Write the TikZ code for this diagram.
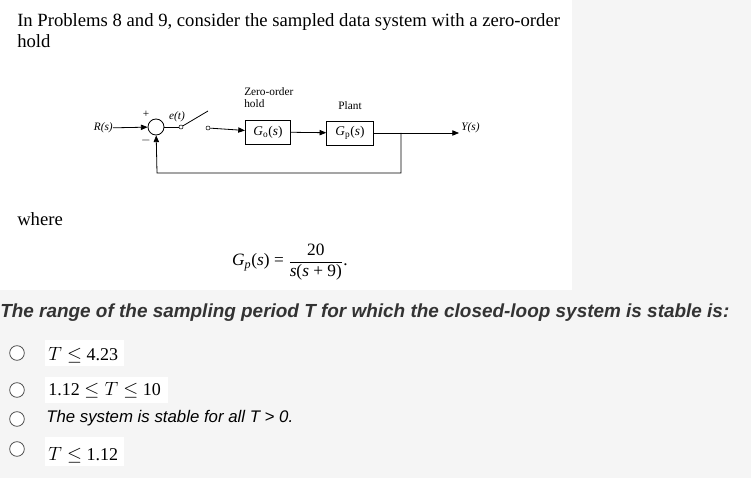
\documentclass[tikz,border=0pt]{standalone}
\usepackage{amsmath}
\usepackage{fontspec}
\setmainfont{Liberation Serif}
\setsansfont{Liberation Sans}
\usetikzlibrary{arrows.meta}
\begin{document}
\begin{tikzpicture}[x=0.75pt,y=-0.75pt,
  blk/.style={draw,line width=0.6pt,minimum width=34pt,minimum height=18pt,inner sep=0pt,font=\fontsize{10}{11}\selectfont},
  sig/.style={line width=0.6pt},
  arr/.style={sig,-{Triangle[length=5pt,width=4pt]}},
  lbl/.style={font=\fontsize{8.5}{9}\selectfont,inner sep=0pt},
  radio/.style={draw=black!70,fill=white,circle,minimum size=11pt,inner sep=0pt,line width=0.6pt},
  opt/.style={anchor=west,inner sep=0pt,font=\fontsize{13.5}{16}\selectfont}]
\useasboundingbox (0,0) rectangle (751,478);
\fill[black!4] (0,0) rectangle (751,478);
\fill[white] (0,0) rectangle (572,290);
\node[anchor=base west,inner sep=0pt,font=\fontsize{14}{16}\selectfont] (t1) at (17,27) {In Problems 8 and 9, consider the sampled data system with a zero-order};
\node[anchor=base west,inner sep=0pt,font=\fontsize{14}{16}\selectfont] (t2) at (17,48) {hold};
% diagram
\node[lbl,anchor=east] (R) at (113,128) {\itshape R(s)};
\node[draw,circle,minimum size=12pt,inner sep=0pt,line width=0.6pt] (sum) at (156,127) {};
\node[lbl] (plus) at (146,114) {+};
\node[lbl,font=\bfseries\fontsize{9}{9}\selectfont] (minus) at (146,141) {$-$};
\node[lbl] (et) at (177,117) {\itshape e(t)};
\node[draw,circle,minimum size=3pt,inner sep=0pt] (sw1) at (181,127) {};
\coordinate (swtip) at (208,111);
\node[draw,circle,minimum size=3pt,inner sep=0pt] (sw2) at (208,128) {};
\node[blk,minimum width=34pt] (G0) at (268,132) {\textit{G}\textsubscript{o}(\textit{s})};
\node[blk,minimum width=35pt] (Gp) at (350,133) {\textit{G}\textsubscript{p}(\textit{s})};
\node[lbl,align=left,anchor=south west] (zoh) at (244,108) {Zero-order\\hold};
\node[lbl,anchor=south] (plant) at (350,110) {Plant};
\node[lbl,anchor=west] (Y) at (461,128) {\itshape Y(s)};
\coordinate (br) at (401,133);
\coordinate (yend) at (459,133);
\coordinate (fb1) at (401,173);
\coordinate (fb2) at (157,173);
\draw[arr] (R) -- (sum);
\draw[sig] (sum) -- (sw1);
\draw[sig] (sw1) -- (swtip);
\draw[arr] (sw2) -- (G0);
\draw[arr] (G0) -- (Gp);
\draw[sig] (Gp) -- (br);
\draw[arr] (br) -- (yend);
\draw[arr] (br) -- (fb1) -- (fb2) -- (sum);
\node[anchor=base west,inner sep=0pt,font=\fontsize{14}{16}\selectfont] (where) at (17,226) {where};
\node[inner sep=0pt,font=\fontsize{13}{15}\selectfont] (eq) at (290,262) {\textit{G\textsubscript{p}}(\textit{s}) = $\dfrac{\text{20}}{\text{\textit{s}(\textit{s} + 9)}}$.};
\node[anchor=base west,inner sep=0pt,font=\sffamily\bfseries\itshape\fontsize{14.2}{17}\selectfont,text=black!80] (q) at (0,317) {The range of the sampling period T for which the closed-loop system is stable is:};
% options
\node[radio] (r1) at (17,353) {};
\node[radio] (r2) at (17,390) {};
\node[radio] (r3) at (17,419) {};
\node[radio] (r4) at (17,449) {};
\fill[white] (45,340) rectangle (124,366);
\fill[white] (45,377) rectangle (168,403);
\fill[white] (45,437) rectangle (124,466);
\node[opt] (o1) at (48,355) {$T \leq$ 4.23};
\node[opt] (o2) at (48,390) {1.12 $\leq T \leq$ 10};
\node[opt,font=\sffamily\itshape\fontsize{12.6}{15}\selectfont] (o3) at (46,418) {The system is stable for all T > 0.};
\node[opt] (o4) at (48,455) {$T \leq$ 1.12};
\end{tikzpicture}
\end{document}
